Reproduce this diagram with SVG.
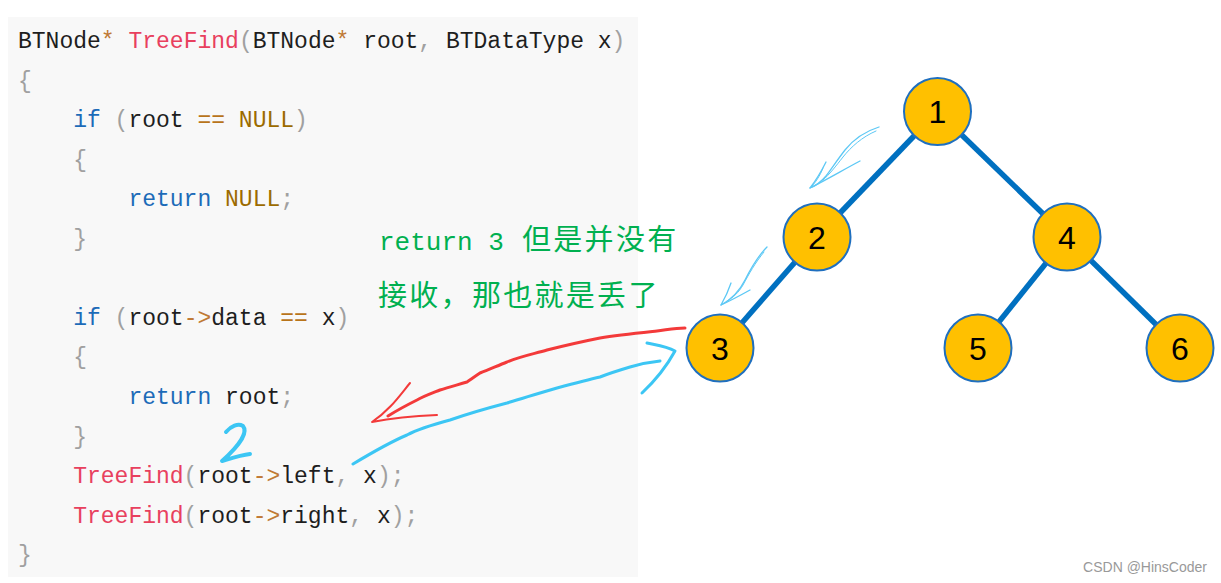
<svg xmlns="http://www.w3.org/2000/svg" width="1221" height="583" viewBox="0 0 1221 583">
<style>
.code{font-family:"Liberation Mono","DejaVu Sans Mono",monospace;font-size:23px;fill:#1e1e1e;white-space:pre}
.kw{fill:#1c6bb8}
.fn{fill:#e8405e}
.nu{fill:#9c6b00}
.op{fill:#b8741a}
.ar{fill:#c07a35}
.p{fill:#a0a0a0}
.note{fill:#00b050}
.mono{font-family:"Liberation Mono","DejaVu Sans Mono",monospace;font-size:26px}
.cjk{font-family:"Noto Sans CJK SC","Noto Sans",sans-serif;font-size:29px;letter-spacing:2.3px}
.edge{stroke:#0070c0;stroke-width:5.5;fill:none}
.nd circle{fill:#ffc000;stroke:#1f6fbf;stroke-width:2}
.nd text{font-family:"Liberation Sans",Arial,sans-serif;font-size:32px;fill:#000;text-anchor:middle}
.sk{fill:none;stroke-linecap:round;stroke-linejoin:round}
</style>
<rect x="0" y="0" width="1221" height="583" fill="#ffffff"/>
<rect x="8" y="17" width="630" height="560" fill="#f8f8f8"/>

<g id="code">
<text class="code" x="18" y="48">BTNode<tspan class="ar">*</tspan> <tspan class="fn">TreeFind</tspan><tspan class="p">(</tspan>BTNode<tspan class="ar">*</tspan> root<tspan class="p">,</tspan> BTDataType x<tspan class="p">)</tspan></text>
<text class="code p" x="18" y="87.6">{</text>
<text class="code" x="73.2" y="127.1"><tspan class="kw">if</tspan> <tspan class="p">(</tspan>root <tspan class="op">==</tspan> <tspan class="nu">NULL</tspan><tspan class="p">)</tspan></text>
<text class="code p" x="73.2" y="166.7">{</text>
<text class="code" x="128.4" y="206.2"><tspan class="kw">return</tspan> <tspan class="nu">NULL</tspan><tspan class="p">;</tspan></text>
<text class="code p" x="73.2" y="245.8">}</text>
<text class="code" x="73.2" y="324.9"><tspan class="kw">if</tspan> <tspan class="p">(</tspan>root<tspan class="ar">-&gt;</tspan>data <tspan class="op">==</tspan> x<tspan class="p">)</tspan></text>
<text class="code p" x="73.2" y="364.4">{</text>
<text class="code" x="128.4" y="404"><tspan class="kw">return</tspan> root<tspan class="p">;</tspan></text>
<text class="code p" x="73.2" y="443.5">}</text>
<text class="code" x="73.2" y="483.1"><tspan class="fn">TreeFind</tspan><tspan class="p">(</tspan>root<tspan class="ar">-&gt;</tspan>left<tspan class="p">,</tspan> x<tspan class="p">);</tspan></text>
<text class="code" x="73.2" y="522.6"><tspan class="fn">TreeFind</tspan><tspan class="p">(</tspan>root<tspan class="ar">-&gt;</tspan>right<tspan class="p">,</tspan> x<tspan class="p">);</tspan></text>
<text class="code p" x="18" y="562.2">}</text>
</g>

<g id="note">
<text class="note" x="379" y="250"><tspan class="mono">return 3</tspan><tspan class="cjk" x="522">但是并没有</tspan></text>
<text class="note cjk" x="378" y="306">接收，那也就是丢了</text>
</g>

<g id="connectors">
<line class="edge" x1="937.5" y1="111.5" x2="817" y2="237"/>
<line class="edge" x1="937.5" y1="111.5" x2="1067" y2="237"/>
<line class="edge" x1="817" y1="237" x2="720" y2="348"/>
<line class="edge" x1="1067" y1="237" x2="978" y2="348"/>
<line class="edge" x1="1067" y1="237" x2="1180" y2="348"/>
</g>

<g id="node-1" class="nd"><circle cx="937.5" cy="111.5" r="33.5"/><text x="937.5" y="123">1</text></g>
<g id="node-2" class="nd"><circle cx="817" cy="237" r="33.5"/><text x="817" y="248.5">2</text></g>
<g id="node-4" class="nd"><circle cx="1067" cy="237" r="33.5"/><text x="1067" y="248.5">4</text></g>
<g id="node-3" class="nd"><circle cx="720" cy="348" r="33.5"/><text x="720" y="359.5">3</text></g>
<g id="node-5" class="nd"><circle cx="978" cy="348" r="33.5"/><text x="978" y="359.5">5</text></g>
<g id="node-6" class="nd"><circle cx="1180" cy="348" r="33.5"/><text x="1180" y="359.5">6</text></g>

<g id="sketch">
<path class="sk" stroke="#5cc8f5" stroke-width="1.3" d="M879,127 C866,131 853,140 845,150 C838,159 832,168 826,176 C821,182 815,186 810,188"/>
<path class="sk" stroke="#5cc8f5" stroke-width="1" d="M876,131 C862,137 851,147 843,157 C836,166 829,175 823,180"/>
<path class="sk" stroke="#5cc8f5" stroke-width="1.3" d="M826,162 C822,170 817,179 810,188 C826,180 843,170 860,161"/>
<path class="sk" stroke="#5cc8f5" stroke-width="1" d="M823,168 C820,176 815,183 812,186"/>
<path class="sk" stroke="#5cc8f5" stroke-width="1.3" d="M767,247 C757,257 751,268 745,280 C740,290 734,298 721,305"/>
<path class="sk" stroke="#5cc8f5" stroke-width="1" d="M764,252 C755,263 749,274 743,285 C739,292 733,298 727,301"/>
<path class="sk" stroke="#5cc8f5" stroke-width="1.3" d="M731,283 C728,292 725,298 721,305 C732,300 741,295 750,290"/>

<path class="sk" stroke="#f33a3a" stroke-width="3" d="M685,328 C675,328 666,330 657,331 C638,333 618,335 600,338 C580,342 563,346 547,350 C533,354 518,357 507,362 C497,366 488,370 480,373 C474,377 470,380 467,382 C457,385 449,387 440,390 C430,394 422,397 417,400 C405,406 396,411 388,416"/>
<path class="sk" stroke="#f33a3a" stroke-width="2" d="M410,383 C400,395 390,410 372,422 C393,418 415,416 437,415"/>

<path class="sk" stroke="#3cc6f4" stroke-width="3" d="M353,464 C368,455 388,443 407,435 C420,428 435,424 450,420 C470,413 488,408 507,403 C523,398 540,393 557,388 C572,384 587,380 600,377 C610,373 620,370 630,367 C640,364 650,362 660,361"/>
<path class="sk" stroke="#3cc6f4" stroke-width="3" d="M647,343 C656,345 666,346 675,351 C669,362 658,378 642,393"/>
<path class="sk" stroke="#3cc6f4" stroke-width="4" d="M226,432 C231,426 238,423 243,426 C248,432 240,445 222,461 C232,458 241,455 250,454"/>
</g>

<text x="1207" y="572" font-family="Liberation Sans,Arial,sans-serif" font-size="14" fill="#999999" text-anchor="end">CSDN @HinsCoder</text>
</svg>
